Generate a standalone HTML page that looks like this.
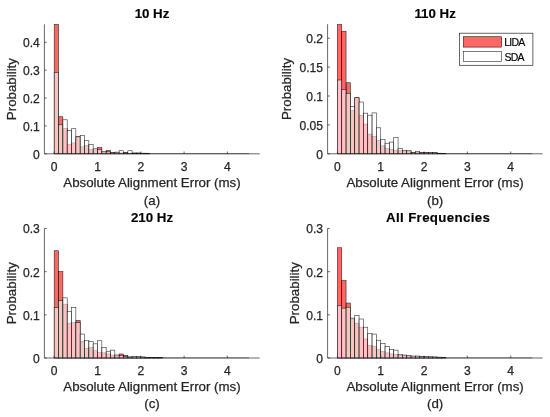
<!DOCTYPE html>
<html lang="en">
<head>
<meta charset="utf-8">
<title>Absolute Alignment Error histograms</title>
<style>
html,body{margin:0;padding:0;background:#fff;}
body{width:550px;height:417px;overflow:hidden;}
svg{display:block;}
text{font-family:"Liberation Sans",Arial,Helvetica,sans-serif;fill:#262626;stroke:#262626;stroke-width:0.25px;}
.tk{font-size:12.1px;}
.lb{font-size:13.3px;}
.tt{font-size:13.3px;font-weight:bold;fill:#000;stroke:#000;stroke-width:0.15px;}
.lg{font-size:10.5px;fill:#000;stroke:#000;stroke-width:0.15px;}
.ax{stroke:#262626;stroke-width:0.7;fill:none;}
.bl rect{fill:#ff0000;fill-opacity:0.6;stroke:#000;stroke-width:0.6;stroke-opacity:0.8;}
.bs rect{fill:#ffffff;fill-opacity:0.6;stroke:#000;stroke-width:0.6;stroke-opacity:0.8;}
</style>
</head>
<body>
<svg width="550" height="417" viewBox="0 0 550 417">
<rect x="0" y="0" width="550" height="417" fill="#ffffff"/>
<g>
<g class="bl"><rect x="54.20" y="24.44" width="4.33" height="129.36"/><rect x="58.53" y="116.72" width="4.33" height="37.08"/><rect x="62.86" y="128.43" width="4.33" height="25.37"/><rect x="67.19" y="144.60" width="4.33" height="9.20"/><rect x="71.52" y="142.93" width="4.33" height="10.87"/><rect x="75.85" y="136.79" width="4.33" height="17.01"/><rect x="80.18" y="146.83" width="4.33" height="6.97"/><rect x="84.51" y="145.44" width="4.33" height="8.36"/><rect x="88.84" y="149.62" width="4.33" height="4.18"/><rect x="93.17" y="149.90" width="4.33" height="3.90"/><rect x="97.50" y="147.67" width="4.33" height="6.13"/><rect x="101.83" y="152.13" width="4.33" height="1.67"/><rect x="106.16" y="150.59" width="4.33" height="3.21"/><rect x="110.49" y="152.41" width="4.33" height="1.39"/><rect x="114.82" y="152.41" width="4.33" height="1.39"/><rect x="119.15" y="152.96" width="4.33" height="0.84"/><rect x="123.48" y="152.41" width="4.33" height="1.39"/><rect x="127.81" y="153.24" width="4.33" height="0.56"/><rect x="132.14" y="152.96" width="4.33" height="0.84"/><rect x="136.47" y="152.96" width="4.33" height="0.84"/><rect x="140.80" y="153.24" width="4.33" height="0.56"/><rect x="145.13" y="153.24" width="4.33" height="0.56"/></g>
<g class="bs"><rect x="54.20" y="72.39" width="4.33" height="81.41"/><rect x="58.53" y="124.80" width="4.33" height="29.00"/><rect x="62.86" y="119.79" width="4.33" height="34.01"/><rect x="67.19" y="130.66" width="4.33" height="23.14"/><rect x="71.52" y="128.71" width="4.33" height="25.09"/><rect x="75.85" y="136.79" width="4.33" height="17.01"/><rect x="80.18" y="135.68" width="4.33" height="18.12"/><rect x="84.51" y="140.70" width="4.33" height="13.10"/><rect x="88.84" y="144.60" width="4.33" height="9.20"/><rect x="93.17" y="148.78" width="4.33" height="5.02"/><rect x="97.50" y="149.34" width="4.33" height="4.46"/><rect x="101.83" y="151.57" width="4.33" height="2.23"/><rect x="106.16" y="151.85" width="4.33" height="1.95"/><rect x="110.49" y="152.41" width="4.33" height="1.39"/><rect x="114.82" y="152.13" width="4.33" height="1.67"/><rect x="119.15" y="150.73" width="4.33" height="3.07"/><rect x="123.48" y="152.96" width="4.33" height="0.84"/><rect x="127.81" y="150.73" width="4.33" height="3.07"/><rect x="132.14" y="153.24" width="4.33" height="0.56"/><rect x="136.47" y="153.24" width="4.33" height="0.56"/><rect x="140.80" y="153.24" width="4.33" height="0.56"/><rect x="145.13" y="153.52" width="4.33" height="0.28"/></g>
<path d="M149.46 153.65H249.05" stroke="#000" stroke-opacity="0.5" stroke-width="0.9" fill="none"/>
<path class="ax" d="M44.4 24.3V153.8H259.7"/>
<path class="ax" d="M54.20 153.8v-2.3M97.50 153.8v-2.3M140.80 153.8v-2.3M184.10 153.8v-2.3M227.40 153.8v-2.3M44.4 153.80h2.3M44.4 125.92h2.3M44.4 98.04h2.3M44.4 70.16h2.3M44.4 42.28h2.3"/>
<text class="tk" x="54.2" y="170.8" text-anchor="middle">0</text><text class="tk" x="97.5" y="170.8" text-anchor="middle">1</text><text class="tk" x="140.8" y="170.8" text-anchor="middle">2</text><text class="tk" x="184.1" y="170.8" text-anchor="middle">3</text><text class="tk" x="227.4" y="170.8" text-anchor="middle">4</text>
<text class="tk" x="39.8" y="158.6" text-anchor="end">0</text><text class="tk" x="39.8" y="130.7" text-anchor="end">0.1</text><text class="tk" x="39.8" y="102.8" text-anchor="end">0.2</text><text class="tk" x="39.8" y="75.0" text-anchor="end">0.3</text><text class="tk" x="39.8" y="47.1" text-anchor="end">0.4</text>
<text class="lb" x="152.0" y="187.1" text-anchor="middle">Absolute Alignment Error (ms)</text>
<text class="lb" x="152.0" y="204.5" text-anchor="middle">(a)</text>
<text class="lb" transform="translate(15.5 89.1) rotate(-90)" text-anchor="middle">Probability</text>
<text class="tt" x="152.0" y="17.8" text-anchor="middle">10 Hz</text>
</g>
<g>
<g class="bl"><rect x="337.40" y="24.50" width="4.33" height="129.30"/><rect x="341.73" y="31.26" width="4.33" height="122.54"/><rect x="346.07" y="82.71" width="4.33" height="71.09"/><rect x="350.40" y="110.62" width="4.33" height="43.18"/><rect x="354.73" y="97.73" width="4.33" height="56.07"/><rect x="359.06" y="115.19" width="4.33" height="38.61"/><rect x="363.40" y="124.09" width="4.33" height="29.71"/><rect x="367.73" y="134.09" width="4.33" height="19.71"/><rect x="372.06" y="136.34" width="4.33" height="17.46"/><rect x="376.40" y="140.45" width="4.33" height="13.35"/><rect x="380.73" y="145.88" width="4.33" height="7.92"/><rect x="385.06" y="148.66" width="4.33" height="5.14"/><rect x="389.40" y="149.41" width="4.33" height="4.39"/><rect x="393.73" y="150.22" width="4.33" height="3.58"/><rect x="398.06" y="150.74" width="4.33" height="3.06"/><rect x="402.39" y="151.60" width="4.33" height="2.20"/><rect x="406.73" y="151.60" width="4.33" height="2.20"/><rect x="411.06" y="152.64" width="4.33" height="1.16"/><rect x="415.39" y="152.36" width="4.33" height="1.45"/><rect x="419.73" y="152.64" width="4.33" height="1.16"/><rect x="424.06" y="152.64" width="4.33" height="1.16"/><rect x="428.39" y="152.76" width="4.33" height="1.04"/><rect x="432.73" y="152.76" width="4.33" height="1.04"/><rect x="437.06" y="153.34" width="4.33" height="0.46"/><rect x="441.39" y="153.57" width="4.33" height="0.23"/></g>
<g class="bs"><rect x="337.40" y="79.99" width="4.33" height="73.81"/><rect x="341.73" y="89.47" width="4.33" height="64.33"/><rect x="346.07" y="93.46" width="4.33" height="60.34"/><rect x="350.40" y="106.64" width="4.33" height="47.16"/><rect x="354.73" y="97.73" width="4.33" height="56.07"/><rect x="359.06" y="102.01" width="4.33" height="51.79"/><rect x="363.40" y="113.17" width="4.33" height="40.63"/><rect x="367.73" y="115.19" width="4.33" height="38.61"/><rect x="372.06" y="112.88" width="4.33" height="40.92"/><rect x="376.40" y="127.79" width="4.33" height="26.01"/><rect x="380.73" y="139.64" width="4.33" height="14.16"/><rect x="385.06" y="143.22" width="4.33" height="10.58"/><rect x="389.40" y="142.07" width="4.33" height="11.73"/><rect x="393.73" y="137.67" width="4.33" height="16.13"/><rect x="398.06" y="148.66" width="4.33" height="5.14"/><rect x="402.39" y="150.33" width="4.33" height="3.47"/><rect x="406.73" y="150.62" width="4.33" height="3.18"/><rect x="411.06" y="152.47" width="4.33" height="1.33"/><rect x="415.39" y="151.60" width="4.33" height="2.20"/><rect x="419.73" y="152.47" width="4.33" height="1.33"/><rect x="424.06" y="152.47" width="4.33" height="1.33"/><rect x="428.39" y="152.47" width="4.33" height="1.33"/><rect x="432.73" y="152.47" width="4.33" height="1.33"/><rect x="437.06" y="153.22" width="4.33" height="0.58"/><rect x="441.39" y="153.51" width="4.33" height="0.29"/></g>
<path d="M445.72 153.65H532.38" stroke="#000" stroke-opacity="0.5" stroke-width="0.9" fill="none"/>
<path class="ax" d="M327.6 24.2V153.8H542.6"/>
<path class="ax" d="M337.40 153.8v-2.3M380.73 153.8v-2.3M424.06 153.8v-2.3M467.39 153.8v-2.3M510.72 153.8v-2.3M327.6 153.80h2.3M327.6 124.90h2.3M327.6 96.00h2.3M327.6 67.10h2.3M327.6 38.20h2.3"/>
<text class="tk" x="337.4" y="170.8" text-anchor="middle">0</text><text class="tk" x="380.7" y="170.8" text-anchor="middle">1</text><text class="tk" x="424.1" y="170.8" text-anchor="middle">2</text><text class="tk" x="467.4" y="170.8" text-anchor="middle">3</text><text class="tk" x="510.7" y="170.8" text-anchor="middle">4</text>
<text class="tk" x="323.0" y="158.6" text-anchor="end">0</text><text class="tk" x="323.0" y="129.7" text-anchor="end">0.05</text><text class="tk" x="323.0" y="100.8" text-anchor="end">0.1</text><text class="tk" x="323.0" y="71.9" text-anchor="end">0.15</text><text class="tk" x="323.0" y="43.0" text-anchor="end">0.2</text>
<text class="lb" x="435.1" y="187.1" text-anchor="middle">Absolute Alignment Error (ms)</text>
<text class="lb" x="435.1" y="204.5" text-anchor="middle">(b)</text>
<text class="lb" transform="translate(291.2 89.0) rotate(-90)" text-anchor="middle">Probability</text>
<text class="tt" x="435.1" y="17.8" text-anchor="middle">110 Hz</text>
</g>
<g>
<g class="bl"><rect x="54.20" y="250.72" width="4.33" height="107.28"/><rect x="58.53" y="271.66" width="4.33" height="86.34"/><rect x="62.86" y="304.17" width="4.33" height="53.83"/><rect x="67.19" y="323.20" width="4.33" height="34.80"/><rect x="71.52" y="322.64" width="4.33" height="35.36"/><rect x="75.85" y="320.49" width="4.33" height="37.51"/><rect x="80.18" y="341.34" width="4.33" height="16.66"/><rect x="84.51" y="348.37" width="4.33" height="9.63"/><rect x="88.84" y="347.47" width="4.33" height="10.53"/><rect x="93.17" y="350.75" width="4.33" height="7.25"/><rect x="97.50" y="352.56" width="4.33" height="5.44"/><rect x="101.83" y="352.82" width="4.33" height="5.18"/><rect x="106.16" y="353.90" width="4.33" height="4.10"/><rect x="110.49" y="355.06" width="4.33" height="2.94"/><rect x="114.82" y="355.76" width="4.33" height="2.24"/><rect x="119.15" y="353.99" width="4.33" height="4.01"/><rect x="123.48" y="355.45" width="4.33" height="2.55"/><rect x="127.81" y="357.05" width="4.33" height="0.95"/><rect x="132.14" y="356.92" width="4.33" height="1.08"/><rect x="136.47" y="357.05" width="4.33" height="0.95"/><rect x="140.80" y="357.14" width="4.33" height="0.86"/><rect x="145.13" y="357.48" width="4.33" height="0.52"/><rect x="149.46" y="357.48" width="4.33" height="0.52"/><rect x="153.79" y="357.57" width="4.33" height="0.43"/><rect x="158.12" y="357.65" width="4.33" height="0.35"/></g>
<g class="bs"><rect x="54.20" y="307.62" width="4.33" height="50.38"/><rect x="58.53" y="300.58" width="4.33" height="57.42"/><rect x="62.86" y="297.82" width="4.33" height="60.18"/><rect x="67.19" y="311.25" width="4.33" height="46.75"/><rect x="71.52" y="307.62" width="4.33" height="50.38"/><rect x="75.85" y="322.64" width="4.33" height="35.36"/><rect x="80.18" y="334.08" width="4.33" height="23.92"/><rect x="84.51" y="340.43" width="4.33" height="17.57"/><rect x="88.84" y="341.68" width="4.33" height="16.32"/><rect x="93.17" y="343.84" width="4.33" height="14.16"/><rect x="97.50" y="340.73" width="4.33" height="17.27"/><rect x="101.83" y="347.64" width="4.33" height="10.36"/><rect x="106.16" y="351.74" width="4.33" height="6.26"/><rect x="110.49" y="350.14" width="4.33" height="7.86"/><rect x="114.82" y="354.98" width="4.33" height="3.02"/><rect x="119.15" y="355.45" width="4.33" height="2.55"/><rect x="123.48" y="356.45" width="4.33" height="1.55"/><rect x="127.81" y="356.92" width="4.33" height="1.08"/><rect x="132.14" y="356.27" width="4.33" height="1.73"/><rect x="136.47" y="356.70" width="4.33" height="1.30"/><rect x="140.80" y="356.92" width="4.33" height="1.08"/><rect x="145.13" y="357.35" width="4.33" height="0.65"/><rect x="149.46" y="357.35" width="4.33" height="0.65"/><rect x="153.79" y="357.35" width="4.33" height="0.65"/><rect x="158.12" y="357.57" width="4.33" height="0.43"/></g>
<path d="M162.45 357.85H249.05" stroke="#000" stroke-opacity="0.5" stroke-width="0.9" fill="none"/>
<path class="ax" d="M44.4 228.5V358.0H259.7"/>
<path class="ax" d="M54.20 358.0v-2.3M97.50 358.0v-2.3M140.80 358.0v-2.3M184.10 358.0v-2.3M227.40 358.0v-2.3M44.4 358.00h2.3M44.4 314.83h2.3M44.4 271.66h2.3M44.4 228.49h2.3"/>
<text class="tk" x="54.2" y="374.8" text-anchor="middle">0</text><text class="tk" x="97.5" y="374.8" text-anchor="middle">1</text><text class="tk" x="140.8" y="374.8" text-anchor="middle">2</text><text class="tk" x="184.1" y="374.8" text-anchor="middle">3</text><text class="tk" x="227.4" y="374.8" text-anchor="middle">4</text>
<text class="tk" x="39.8" y="362.8" text-anchor="end">0</text><text class="tk" x="39.8" y="319.6" text-anchor="end">0.1</text><text class="tk" x="39.8" y="276.5" text-anchor="end">0.2</text><text class="tk" x="39.8" y="233.3" text-anchor="end">0.3</text>
<text class="lb" x="152.0" y="391.3" text-anchor="middle">Absolute Alignment Error (ms)</text>
<text class="lb" x="152.0" y="408.4" text-anchor="middle">(c)</text>
<text class="lb" transform="translate(15.5 293.2) rotate(-90)" text-anchor="middle">Probability</text>
<text class="tt" x="152.0" y="222.3" text-anchor="middle">210 Hz</text>
</g>
<g>
<g class="bl"><rect x="337.40" y="247.74" width="4.33" height="110.26"/><rect x="341.73" y="280.55" width="4.33" height="77.45"/><rect x="346.07" y="303.04" width="4.33" height="54.96"/><rect x="350.40" y="319.02" width="4.33" height="38.98"/><rect x="354.73" y="323.20" width="4.33" height="34.80"/><rect x="359.06" y="327.18" width="4.33" height="30.82"/><rect x="363.40" y="338.96" width="4.33" height="19.04"/><rect x="367.73" y="345.31" width="4.33" height="12.69"/><rect x="372.06" y="346.21" width="4.33" height="11.79"/><rect x="376.40" y="349.50" width="4.33" height="8.50"/><rect x="380.73" y="351.31" width="4.33" height="6.69"/><rect x="385.06" y="352.86" width="4.33" height="5.14"/><rect x="389.40" y="353.90" width="4.33" height="4.10"/><rect x="393.73" y="354.33" width="4.33" height="3.67"/><rect x="398.06" y="355.41" width="4.33" height="2.59"/><rect x="402.39" y="355.76" width="4.33" height="2.24"/><rect x="406.73" y="356.01" width="4.33" height="1.99"/><rect x="411.06" y="356.62" width="4.33" height="1.38"/><rect x="415.39" y="356.62" width="4.33" height="1.38"/><rect x="419.73" y="356.79" width="4.33" height="1.21"/><rect x="424.06" y="356.96" width="4.33" height="1.04"/><rect x="428.39" y="357.05" width="4.33" height="0.95"/><rect x="432.73" y="357.14" width="4.33" height="0.86"/><rect x="437.06" y="357.31" width="4.33" height="0.69"/><rect x="441.39" y="357.48" width="4.33" height="0.52"/></g>
<g class="bs"><rect x="337.40" y="305.76" width="4.33" height="52.24"/><rect x="341.73" y="308.14" width="4.33" height="49.86"/><rect x="346.07" y="307.23" width="4.33" height="50.77"/><rect x="350.40" y="318.11" width="4.33" height="39.89"/><rect x="354.73" y="315.39" width="4.33" height="42.61"/><rect x="359.06" y="319.02" width="4.33" height="38.98"/><rect x="363.40" y="327.18" width="4.33" height="30.82"/><rect x="367.73" y="333.52" width="4.33" height="24.48"/><rect x="372.06" y="334.08" width="4.33" height="23.92"/><rect x="376.40" y="340.21" width="4.33" height="17.79"/><rect x="380.73" y="343.32" width="4.33" height="14.68"/><rect x="385.06" y="346.43" width="4.33" height="11.57"/><rect x="389.40" y="349.45" width="4.33" height="8.55"/><rect x="393.73" y="350.14" width="4.33" height="7.86"/><rect x="398.06" y="354.42" width="4.33" height="3.58"/><rect x="402.39" y="355.02" width="4.33" height="2.98"/><rect x="406.73" y="355.32" width="4.33" height="2.68"/><rect x="411.06" y="356.01" width="4.33" height="1.99"/><rect x="415.39" y="356.01" width="4.33" height="1.99"/><rect x="419.73" y="356.45" width="4.33" height="1.55"/><rect x="424.06" y="356.70" width="4.33" height="1.30"/><rect x="428.39" y="356.83" width="4.33" height="1.17"/><rect x="432.73" y="356.92" width="4.33" height="1.08"/><rect x="437.06" y="357.14" width="4.33" height="0.86"/><rect x="441.39" y="357.35" width="4.33" height="0.65"/></g>
<path d="M445.72 357.85H532.38" stroke="#000" stroke-opacity="0.5" stroke-width="0.9" fill="none"/>
<path class="ax" d="M327.6 228.5V358.0H542.6"/>
<path class="ax" d="M337.40 358.0v-2.3M380.73 358.0v-2.3M424.06 358.0v-2.3M467.39 358.0v-2.3M510.72 358.0v-2.3M327.6 358.00h2.3M327.6 314.83h2.3M327.6 271.66h2.3M327.6 228.49h2.3"/>
<text class="tk" x="337.4" y="374.8" text-anchor="middle">0</text><text class="tk" x="380.7" y="374.8" text-anchor="middle">1</text><text class="tk" x="424.1" y="374.8" text-anchor="middle">2</text><text class="tk" x="467.4" y="374.8" text-anchor="middle">3</text><text class="tk" x="510.7" y="374.8" text-anchor="middle">4</text>
<text class="tk" x="323.0" y="362.8" text-anchor="end">0</text><text class="tk" x="323.0" y="319.6" text-anchor="end">0.1</text><text class="tk" x="323.0" y="276.5" text-anchor="end">0.2</text><text class="tk" x="323.0" y="233.3" text-anchor="end">0.3</text>
<text class="lb" x="435.1" y="391.3" text-anchor="middle">Absolute Alignment Error (ms)</text>
<text class="lb" x="435.1" y="408.4" text-anchor="middle">(d)</text>
<text class="lb" transform="translate(298.7 293.2) rotate(-90)" text-anchor="middle">Probability</text>
<text class="tt" x="386.1" y="222.3" textLength="103.8" lengthAdjust="spacing">All Frequencies</text>
</g>
<g>
<rect x="459.5" y="33.2" width="73.4" height="32.1" fill="#fff" stroke="#262626" stroke-width="0.7"/>
<rect x="463.3" y="36.7" width="38.4" height="10.4" fill="#ff0000" fill-opacity="0.6" stroke="#000" stroke-width="0.6" stroke-opacity="0.85"/>
<rect x="463.3" y="51.3" width="38.4" height="10.3" fill="#fff" stroke="#000" stroke-width="0.6" stroke-opacity="0.85"/>
<text class="lg" x="504.3" y="46.4" textLength="21" lengthAdjust="spacing">LIDA</text>
<text class="lg" x="504.5" y="60.8" textLength="20" lengthAdjust="spacing">SDA</text>
</g>
</svg>
</body>
</html>
